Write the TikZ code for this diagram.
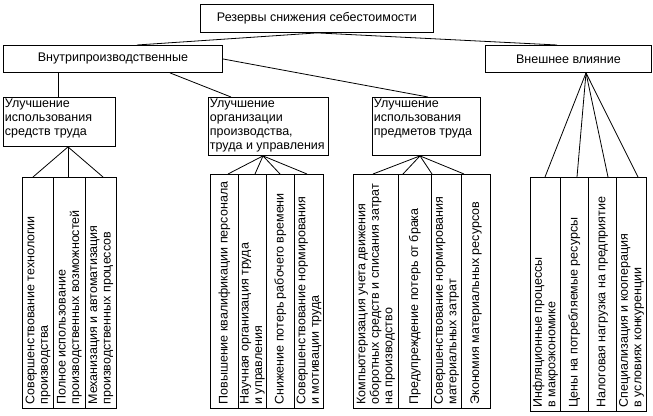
\documentclass[tikz,border=0pt]{standalone}
\usepackage{fontspec}
\setmainfont{Liberation Sans}
\newcommand\diagfont{\fontsize{12.5}{13.5}\selectfont}
\newcommand\boxfont{\fontsize{12.5}{14}\selectfont}
\begin{document}
\begin{tikzpicture}[x=1pt,y=-1pt,line width=0.9pt,
  box/.style={draw,rectangle,inner sep=0pt,anchor=north west,font=\boxfont},
  lab/.style={inner sep=0pt,anchor=north west,align=left,font=\boxfont},
  vlab/.style={inner sep=0pt,anchor=west,align=left,rotate=90,font=\diagfont},
  link/.style={line width=0.8pt}]
\useasboundingbox (0,0) rectangle (653,415);
% top levels
\node[box,minimum width=233pt,minimum height=28pt] (top) at (200,4) {Резервы снижения себестоимости};
\node[box,minimum width=219pt,minimum height=27pt] (vn) at (3,45) {Внутрипроизводственные};
\node[box,minimum width=166pt,minimum height=27pt] (ext) at (485,45) {Внешнее влияние};
% second level
\node[box,minimum width=112pt,minimum height=49pt] (L) at (3,97) {};
\node[box,minimum width=120pt,minimum height=58pt] (M) at (208,97) {};
\node[box,minimum width=108pt,minimum height=58pt] (T) at (372,97) {};
\node[lab] (Ltx) at ([xshift=1.5pt,yshift=-1.5pt]L.north west) {Улучшение\\использования\\средств труда};
\node[lab] (Mtx) at ([xshift=1.5pt,yshift=-1.5pt]M.north west) {Улучшение\\организации\\производства,\\труда и управления};
\node[lab] (Ttx) at ([xshift=1.5pt,yshift=-1.5pt]T.north west) {Улучшение\\использования\\предметов труда};
% columns
\node[box,minimum width=31pt,minimum height=231pt] (l1) at (22,177) {};
\node[box,minimum width=32pt,minimum height=231pt] (l2) at (53,177) {};
\node[box,minimum width=31pt,minimum height=231pt] (l3) at (85,177) {};
\node[box,minimum width=28pt,minimum height=234pt] (m1) at (210,174) {};
\node[box,minimum width=28pt,minimum height=234pt] (m2) at (238,174) {};
\node[box,minimum width=28pt,minimum height=234pt] (m3) at (266,174) {};
\node[box,minimum width=29pt,minimum height=234pt] (m4) at (294,174) {};
\node[box,minimum width=45pt,minimum height=234pt] (t1) at (353,174) {};
\node[box,minimum width=33pt,minimum height=234pt] (t2) at (398,174) {};
\node[box,minimum width=30pt,minimum height=234pt] (t3) at (431,174) {};
\node[box,minimum width=29pt,minimum height=234pt] (t4) at (461,174) {};
\node[box,minimum width=30pt,minimum height=234pt] (e1) at (530,177) {};
\node[box,minimum width=28pt,minimum height=234pt] (e2) at (560,177) {};
\node[box,minimum width=28pt,minimum height=234pt] (e3) at (588,177) {};
\node[box,minimum width=30pt,minimum height=234pt] (e4) at (616,177) {};
% column texts
\node[vlab] at ([yshift=4pt]l1.south) {Совершенствование технологии\\производства};
\node[vlab] at ([yshift=4pt]l2.south) {Полное использование\\производственных возможностей};
\node[vlab] at ([yshift=4pt]l3.south) {Механизация и автоматизация\\производственных процессов};
\node[vlab] at ([yshift=4pt]m1.south) {Повышение квалификации персонала};
\node[vlab] at ([yshift=4pt]m2.south) {Научная организация труда\\и управления};
\node[vlab] at ([yshift=4pt]m3.south) {Снижение потерь рабочего времени};
\node[vlab] at ([yshift=4pt]m4.south) {Совершенствование нормирования\\и мотивации труда};
\node[vlab] at ([yshift=4pt]t1.south) {Компьютеризация учета движения\\оборотных средств и списания затрат\\на производство};
\node[vlab] at ([yshift=4pt]t2.south) {Предупреждение потерь от брака};
\node[vlab] at ([yshift=4pt]t3.south) {Совершенствование нормирования\\материальных затрат};
\node[vlab] at ([yshift=4pt]t4.south) {Экономия материальных ресурсов};
\node[vlab] at ([yshift=4pt]e1.south) {Инфляционные процессы\\в макроэкономике};
\node[vlab] at ([yshift=4pt]e2.south) {Цены на потребляемые ресурсы};
\node[vlab] at ([yshift=4pt]e3.south) {Налоговая нагрузка на предприятие};
\node[vlab] at ([yshift=4pt]e4.south) {Специализация и кооперация\\в условиях конкуренции};
% connectors
\draw[link] (top.south) -- ([xshift=134pt]vn.north west);
\draw[link] (top.south) -- ([xshift=72pt]ext.north west);
\draw[link] ([xshift=55pt]vn.south west) -- ([xshift=55pt]L.north west);
\draw[link] ([xshift=167pt]vn.south west) -- ([xshift=23pt]M.north west);
\draw[link] (vn.east) -- ([xshift=56pt]T.north west);
\foreach \c/\s in {l1/11,l2/15,l3/18}
  \draw[link] ([xshift=65pt]L.south west) -- ([xshift=\s pt]\c.north west);
\foreach \c/\s in {m1/18,m2/17,m3/14,m4/13}
  \draw[link] ([xshift=55pt]M.south west) -- ([xshift=\s pt]\c.north west);
\foreach \c/\s in {t1/20,t2/5,t3/1,t4/3}
  \draw[link] ([xshift=48pt]T.south west) -- ([xshift=\s pt]\c.north west);
\foreach \c/\s in {e1/15,e2/17,e3/20,e4/22}
  \draw[link] ([xshift=101pt]ext.south west) -- ([xshift=\s pt]\c.north west);
\end{tikzpicture}
\end{document}
